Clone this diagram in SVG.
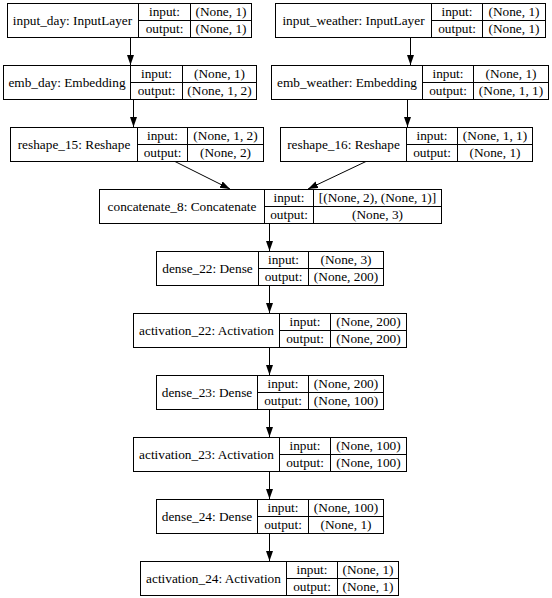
<svg xmlns="http://www.w3.org/2000/svg" width="552" height="598" viewBox="0 0 552 598">
<style>
.b{fill:#fff;stroke:#000;stroke-width:1}
.l{stroke:#000;stroke-width:1}
text{font-family:'Times New Roman','Liberation Serif','DejaVu Serif',serif;font-size:13.3px;fill:#000;text-anchor:middle}
.e{stroke:#000;stroke-width:1;fill:none;marker-end:url(#ah)}
</style>
<defs>
<marker id="ah" markerUnits="userSpaceOnUse" markerWidth="10" markerHeight="8" refX="10" refY="3.5" orient="auto">
<path d="M0,0 L10,3.5 L0,7 z" fill="#000"/>
</marker>
</defs>
<rect width="552" height="598" fill="#fff"/>
<g id="connectors">
<line class="e" x1="130.5" y1="37" x2="130.5" y2="65"/>
<line class="e" x1="410.5" y1="37" x2="410.5" y2="65"/>
<line class="e" x1="133.5" y1="99" x2="133.5" y2="127"/>
<line class="e" x1="407.5" y1="99" x2="407.5" y2="127"/>
<line class="e" x1="174" y1="161" x2="230" y2="189"/>
<line class="e" x1="367" y1="161" x2="308" y2="189"/>
<line class="e" x1="269.5" y1="223" x2="269.5" y2="251"/>
<line class="e" x1="269.5" y1="285" x2="269.5" y2="313"/>
<line class="e" x1="269.5" y1="347" x2="269.5" y2="375"/>
<line class="e" x1="269.5" y1="409" x2="269.5" y2="437"/>
<line class="e" x1="269.5" y1="471" x2="269.5" y2="499"/>
<line class="e" x1="269.5" y1="533" x2="269.5" y2="561"/>
</g>
<g id="input_day">
<rect class="b" x="7.5" y="3.5" width="244" height="34"/>
<line class="l" x1="138.5" y1="3.5" x2="138.5" y2="37.5"/><line class="l" x1="190.5" y1="3.5" x2="190.5" y2="37.5"/><line class="l" x1="138.5" y1="20.5" x2="251.5" y2="20.5"/>
<text x="72.5" y="25">input_day: InputLayer</text><text x="164.5" y="16">input:</text><text x="164.5" y="33">output:</text><text x="221" y="16">(None, 1)</text><text x="221" y="33">(None, 1)</text>
</g>
<g id="input_weather">
<rect class="b" x="275.5" y="3.5" width="270" height="34"/>
<line class="l" x1="431.5" y1="3.5" x2="431.5" y2="37.5"/><line class="l" x1="482.5" y1="3.5" x2="482.5" y2="37.5"/><line class="l" x1="431.5" y1="20.5" x2="545.5" y2="20.5"/>
<text x="353.5" y="25">input_weather: InputLayer</text><text x="457" y="16">input:</text><text x="457" y="33">output:</text><text x="514" y="16">(None, 1)</text><text x="514" y="33">(None, 1)</text>
</g>
<g id="emb_day">
<rect class="b" x="3.5" y="65.5" width="253" height="34"/>
<line class="l" x1="130.5" y1="65.5" x2="130.5" y2="99.5"/><line class="l" x1="182.5" y1="65.5" x2="182.5" y2="99.5"/><line class="l" x1="130.5" y1="82.5" x2="256.5" y2="82.5"/>
<text x="67" y="87">emb_day: Embedding</text><text x="156.5" y="78">input:</text><text x="156.5" y="95">output:</text><text x="219.5" y="78">(None, 1)</text><text x="219.5" y="95">(None, 1, 2)</text>
</g>
<g id="emb_weather">
<rect class="b" x="271.5" y="65.5" width="277" height="34"/>
<line class="l" x1="422.5" y1="65.5" x2="422.5" y2="99.5"/><line class="l" x1="473.5" y1="65.5" x2="473.5" y2="99.5"/><line class="l" x1="422.5" y1="82.5" x2="548.5" y2="82.5"/>
<text x="347" y="87">emb_weather: Embedding</text><text x="448" y="78">input:</text><text x="448" y="95">output:</text><text x="511" y="78">(None, 1)</text><text x="511" y="95">(None, 1, 1)</text>
</g>
<g id="reshape_15">
<rect class="b" x="10.5" y="127.5" width="253" height="34"/>
<line class="l" x1="137.5" y1="127.5" x2="137.5" y2="161.5"/><line class="l" x1="187.5" y1="127.5" x2="187.5" y2="161.5"/><line class="l" x1="137.5" y1="144.5" x2="263.5" y2="144.5"/>
<text x="74" y="149">reshape_15: Reshape</text><text x="162.5" y="140">input:</text><text x="162.5" y="157">output:</text><text x="225.5" y="140">(None, 1, 2)</text><text x="225.5" y="157">(None, 2)</text>
</g>
<g id="reshape_16">
<rect class="b" x="280.5" y="127.5" width="252" height="34"/>
<line class="l" x1="406.5" y1="127.5" x2="406.5" y2="161.5"/><line class="l" x1="457.5" y1="127.5" x2="457.5" y2="161.5"/><line class="l" x1="406.5" y1="144.5" x2="532.5" y2="144.5"/>
<text x="343.5" y="149">reshape_16: Reshape</text><text x="432" y="140">input:</text><text x="432" y="157">output:</text><text x="495" y="140">(None, 1, 1)</text><text x="495" y="157">(None, 1)</text>
</g>
<g id="concatenate_8">
<rect class="b" x="99.5" y="189.5" width="342" height="34"/>
<line class="l" x1="264.5" y1="189.5" x2="264.5" y2="223.5"/><line class="l" x1="313.5" y1="189.5" x2="313.5" y2="223.5"/><line class="l" x1="264.5" y1="206.5" x2="441.5" y2="206.5"/>
<text x="182" y="211">concatenate_8: Concatenate</text><text x="289" y="202">input:</text><text x="289" y="219">output:</text><text x="377.5" y="202">[(None, 2), (None, 1)]</text><text x="377.5" y="219">(None, 3)</text>
</g>
<g id="dense_22">
<rect class="b" x="156.5" y="251.5" width="227" height="34"/>
<line class="l" x1="258.5" y1="251.5" x2="258.5" y2="285.5"/><line class="l" x1="308.5" y1="251.5" x2="308.5" y2="285.5"/><line class="l" x1="258.5" y1="268.5" x2="383.5" y2="268.5"/>
<text x="207.5" y="273">dense_22: Dense</text><text x="283.5" y="264">input:</text><text x="283.5" y="281">output:</text><text x="346" y="264">(None, 3)</text><text x="346" y="281">(None, 200)</text>
</g>
<g id="activation_22">
<rect class="b" x="133.5" y="313.5" width="273" height="34"/>
<line class="l" x1="279.5" y1="313.5" x2="279.5" y2="347.5"/><line class="l" x1="330.5" y1="313.5" x2="330.5" y2="347.5"/><line class="l" x1="279.5" y1="330.5" x2="406.5" y2="330.5"/>
<text x="206.5" y="335">activation_22: Activation</text><text x="305" y="326">input:</text><text x="305" y="343">output:</text><text x="368.5" y="326">(None, 200)</text><text x="368.5" y="343">(None, 200)</text>
</g>
<g id="dense_23">
<rect class="b" x="156.5" y="375.5" width="227" height="34"/>
<line class="l" x1="257.5" y1="375.5" x2="257.5" y2="409.5"/><line class="l" x1="308.5" y1="375.5" x2="308.5" y2="409.5"/><line class="l" x1="257.5" y1="392.5" x2="383.5" y2="392.5"/>
<text x="207" y="397">dense_23: Dense</text><text x="283" y="388">input:</text><text x="283" y="405">output:</text><text x="346" y="388">(None, 200)</text><text x="346" y="405">(None, 100)</text>
</g>
<g id="activation_23">
<rect class="b" x="133.5" y="437.5" width="273" height="34"/>
<line class="l" x1="279.5" y1="437.5" x2="279.5" y2="471.5"/><line class="l" x1="330.5" y1="437.5" x2="330.5" y2="471.5"/><line class="l" x1="279.5" y1="454.5" x2="406.5" y2="454.5"/>
<text x="206.5" y="459">activation_23: Activation</text><text x="305" y="450">input:</text><text x="305" y="467">output:</text><text x="368.5" y="450">(None, 100)</text><text x="368.5" y="467">(None, 100)</text>
</g>
<g id="dense_24">
<rect class="b" x="156.5" y="499.5" width="227" height="34"/>
<line class="l" x1="257.5" y1="499.5" x2="257.5" y2="533.5"/><line class="l" x1="308.5" y1="499.5" x2="308.5" y2="533.5"/><line class="l" x1="257.5" y1="516.5" x2="383.5" y2="516.5"/>
<text x="207" y="521">dense_24: Dense</text><text x="283" y="512">input:</text><text x="283" y="529">output:</text><text x="346" y="512">(None, 100)</text><text x="346" y="529">(None, 1)</text>
</g>
<g id="activation_24">
<rect class="b" x="140.5" y="561.5" width="258" height="34"/>
<line class="l" x1="286.5" y1="561.5" x2="286.5" y2="595.5"/><line class="l" x1="337.5" y1="561.5" x2="337.5" y2="595.5"/><line class="l" x1="286.5" y1="578.5" x2="398.5" y2="578.5"/>
<text x="213.5" y="583">activation_24: Activation</text><text x="312" y="574">input:</text><text x="312" y="591">output:</text><text x="368" y="574">(None, 1)</text><text x="368" y="591">(None, 1)</text>
</g>
</svg>
